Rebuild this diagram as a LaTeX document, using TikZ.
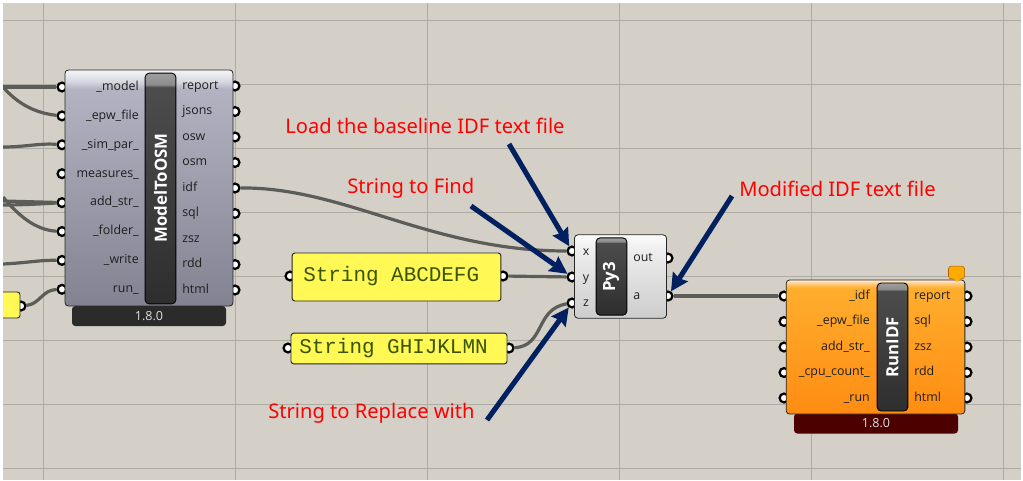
\documentclass[tikz,border=0pt]{standalone}
\usepackage{fontspec}
\setmainfont{Open Sans}
\setmonofont{Liberation Mono}
\newfontfamily\notefont{Noto Sans}
\usetikzlibrary{arrows.meta}

\definecolor{canvas}{HTML}{D4D0C8}
\definecolor{gridline}{HTML}{AFACA4}
\definecolor{wire}{HTML}{5C5C58}
\definecolor{navy}{HTML}{002060}
\definecolor{panel}{HTML}{FFF855}
\definecolor{paneltext}{HTML}{3A5500}

\pgfdeclareverticalshading{greybody}{100bp}{rgb(0bp)=(.51,.51,.57); rgb(25bp)=(.51,.51,.57); rgb(71bp)=(.70,.70,.76); rgb(72.5bp)=(.84,.84,.88); rgb(75bp)=(.96,.96,.97); rgb(100bp)=(.96,.96,.97)}
\pgfdeclareverticalshading{whitebody}{100bp}{rgb(0bp)=(.80,.80,.80); rgb(25bp)=(.80,.80,.80); rgb(65bp)=(.93,.93,.93); rgb(75bp)=(.98,.98,.98); rgb(100bp)=(.98,.98,.98)}
\pgfdeclareverticalshading{orangebody}{100bp}{rgb(0bp)=(1,.55,.07); rgb(25bp)=(1,.55,.07); rgb(72bp)=(1,.68,.18); rgb(73.5bp)=(1,.78,.45); rgb(75bp)=(1,.93,.85); rgb(100bp)=(1,.93,.85)}
\pgfdeclareverticalshading{barbody}{100bp}{rgb(0bp)=(.18,.18,.18); rgb(25bp)=(.18,.18,.18); rgb(72bp)=(.30,.30,.30); rgb(72.5bp)=(.55,.55,.55); rgb(75bp)=(.62,.62,.62); rgb(100bp)=(.62,.62,.62)}

\tikzset{
	grip/.style={circle, draw=black, fill=white, line width=1.7pt, inner sep=0pt, minimum size=6.6pt},
	wireline/.style={draw=wire, line width=2.4pt},
	body/.style={shade, draw=black!85, line width=0.6pt, rounded corners=2.5pt, inner sep=0pt},
	bar/.style={shade, shading=barbody, draw=black, line width=0.7pt, rounded corners=3pt, inner sep=0pt, minimum width=23pt},
	bartext/.style={rotate=90, text=white, font=\fontsize{12.6}{14}\selectfont\bfseries, inner sep=0pt},
	footer/.style={draw=none, rounded corners=2.5pt, inner sep=0pt, text=black!12, font=\fontsize{9.4}{11}\selectfont},
	inlabel/.style={anchor=east, inner sep=0pt, text height=7pt, text depth=2pt, text=black!88, font=\fontsize{9.3}{11}\selectfont},
	outlabel/.style={anchor=west, inner sep=0pt, text height=7pt, text depth=2pt, text=black!88, font=\fontsize{9.3}{11}\selectfont},
	panelbox/.style={fill=panel, draw=black!85, line width=0.7pt, rounded corners=2pt, inner sep=0pt},
	paneltxt/.style={anchor=west, inner sep=0pt, text=paneltext, font=\fontsize{15.7}{18}\selectfont\ttfamily},
	note/.style={anchor=west, inner sep=0pt, text=red, font=\fontsize{15.1}{17}\selectfont\notefont},
	pointer/.style={draw=navy, line width=3.8pt, -{Stealth[length=13pt, width=13pt, inset=1.5pt]}},
}

\begin{document}
\begin{tikzpicture}[x=0.75pt, y=-0.75pt]
\useasboundingbox (0,0) rectangle (1023,480);
\fill[white] (0,0) rectangle (1023,480);

\begin{scope}
	\clip (3,3) rectangle (1021,480);
	\fill[canvas] (3,3) rectangle (1021,480);
	\foreach \x in {43,235,427,619,811,1003}
		\draw[gridline, line width=0.7pt] (\x,3) -- (\x,480);
	\foreach \y in {20,84,148,212,276,340,404,468}
		\draw[gridline, line width=0.7pt] (3,\y) -- (1021,\y);

	% grips
	\foreach \i in {1,...,8}
		\node[grip] (osm-i\i) at (62,{87+28.9*(\i-1)}) {};
	\foreach \i in {1,...,9}
		\node[grip] (osm-o\i) at (235,{86+25.5*(\i-1)}) {};
	\foreach \i/\y in {x/251,y/277,z/303}
		\node[grip] (py-\i) at (572,\y) {};
	\foreach \i/\y in {out/258,a/296}
		\node[grip] (py-\i) at (668,\y) {};
	\foreach \i in {1,...,5} {
		\node[grip] (run-i\i) at (784,{296+25.5*(\i-1)}) {};
		\node[grip] (run-o\i) at (967,{296+25.5*(\i-1)}) {};
	}
	\node[grip] (abc-l) at (290,276) {};
	\node[grip] (abc-r) at (503,276) {};
	\node[grip] (ghi-l) at (288,348) {};
	\node[grip] (ghi-r) at (509,348) {};
	\node[grip] (run-r) at (21,306) {};

	% wires
	\coordinate (w1) at (3,87);
	\coordinate (w2) at (3,147);
	\coordinate (w3) at (3,201);
	\coordinate (w4) at (3,205);
	\coordinate (w5) at (3,197);
	\coordinate (w6) at (3,264);
	\draw[wireline] (w1) -- (osm-i1);
	\draw[wireline] (w1) .. controls (18,104) and (35,113) .. (osm-i2);
	\draw[wireline] (w2) .. controls (25,147) and (40,143) .. (osm-i3);
	\draw[wireline] (w3) -- (osm-i5);
	\draw[wireline] (w4) .. controls (20,205) and (40,204) .. (osm-i5);
	\draw[wireline] (w5) .. controls (18,215) and (35,230) .. (osm-i6);
	\draw[wireline] (w6) .. controls (25,263) and (40,260) .. (osm-i7);
	\draw[wireline] (run-r) .. controls (40,304) and (42,290) .. (osm-i8);
	\draw[wireline] (osm-o5) .. controls (345,187) and (430,251) .. (py-x);
	\draw[wireline] (abc-r) -- (py-y);
	\draw[wireline] (ghi-r) .. controls (545,346) and (535,309) .. (py-z);
	\draw[wireline] (py-a) -- (run-i1);

	% components
	\node[body, shading=greybody, minimum width=126pt, minimum height=177pt] (osm) at (149,188) {};
	\node[footer, fill=black!83, minimum width=115.5pt, minimum height=15pt] (osm-v) at (149,316) {1.8.0};
	\node[bar, minimum height=173pt] (osm-b) at (160.5,188.5) {};
	\node[bartext] (osm-t) at (160.5,188) {ModelToOSM};
	\foreach \t [count=\i] in {\_model,\_epw\_file,\_sim\_par\_,measures\_,add\_str\_,\_folder\_,\_write,run\_}
		\node[inlabel] (osm-il\i) at (139,{87+28.9*(\i-1)}) {\t};
	\foreach \t [count=\i] in {report,jsons,osw,osm,idf,sql,zsz,rdd,html}
		\node[outlabel] (osm-ol\i) at (182,{86+25.5*(\i-1)}) {\t};

	\node[body, shading=whitebody, minimum width=69pt, minimum height=62.5pt] (py) at (620.5,276.5) {};
	\node[bar, minimum height=58pt] (py-b) at (611.5,276.5) {};
	\node[bartext] (py-t) at (611,277) {Py3};
	\foreach \t/\y in {x/252,y/278,z/303}
		\node[inner sep=0pt, text height=7pt, text depth=2pt, text=black!88, font=\fontsize{9.3}{11}\selectfont] (py-l\t) at (586,\y) {\t};
	\foreach \t/\y in {out/258,a/296}
		\node[outlabel] (py-l\t) at (633,\y) {\t};

	\node[footer, fill=black!70!red, minimum width=123pt, minimum height=15pt] (run-v) at (876,423.5) {1.8.0};
	\node[body, shading=orangebody, minimum width=134pt, minimum height=100.5pt] (run) at (875.5,347) {};
	\node[bar, minimum height=96pt] (run-b) at (892.5,347) {};
	\node[bartext] (run-t) at (892.5,347) {RunIDF};
	\foreach \t [count=\i] in {\_idf,\_epw\_file,add\_str\_,\_cpu\_count\_,\_run}
		\node[inlabel] (run-il\i) at (870,{296+25.5*(\i-1)}) {\t};
	\foreach \t [count=\i] in {report,sql,zsz,rdd,html}
		\node[outlabel] (run-ol\i) at (914,{296+25.5*(\i-1)}) {\t};
	\node[fill=orange!65!yellow, draw=orange!70!black, line width=0.4pt, rounded corners=2pt, inner sep=0pt, minimum width=12pt, minimum height=9.5pt] (balloon) at (956.5,272.5) {};
	\fill[orange!65!yellow] (953,278) -- (957,282) -- (961,278) -- cycle;

	% text panels
	\node[panelbox, minimum width=156.5pt, minimum height=36pt] (abc) at (396.5,277) {};
	\node[paneltxt] (abc-t) at (303,276) {String ABCDEFG};
	\node[panelbox, minimum width=162pt, minimum height=23pt] (ghi) at (399,348.5) {};
	\node[paneltxt] (ghi-t) at (299,348) {String GHIJKLMN};
	\node[panelbox, minimum width=30pt, minimum height=19.5pt] (run-p) at (0,305) {};

	% notes
	\node[note] (n1) at (285,126) {Load the baseline IDF text file};
	\node[note] (n2) at (347,188) {String to Find};
	\node[note] (n3) at (739,189) {Modified IDF text file};
	\node[note] (n4) at (268,413) {String to Replace with};
	\coordinate (a1) at (509,144);
	\coordinate (a2) at (471,206);
	\coordinate (a3) at (487,420);
	\coordinate (a4) at (732,196);
	\draw[pointer] (a1) -- (py-x);
	\draw[pointer] (a2) -- (py-y);
	\draw[pointer] (a3) -- (py-z);
	\draw[pointer] (a4) -- (py-a);
\end{scope}
\end{tikzpicture}
\end{document}
